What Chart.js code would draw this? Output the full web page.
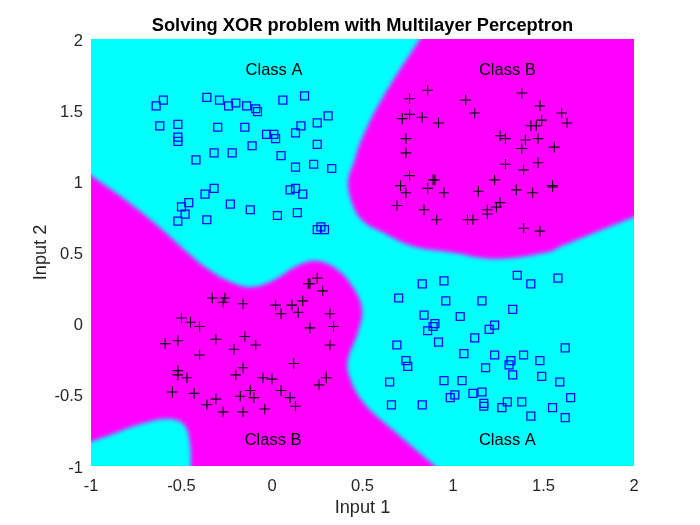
<!DOCTYPE html>
<html>
<head>
<meta charset="utf-8">
<title>Solving XOR problem with Multilayer Perceptron</title>
<script src="https://cdn.jsdelivr.net/npm/chart.js@4"></script>
<style>
    html, body { margin: 0; padding: 0; background: #fff; }
    canvas { display: block; }
</style>
</head>
<body>
<canvas id="xorChart" width="700" height="525"></canvas>
<script>
const xTicks = [-1, -0.5, 0, 0.5, 1, 1.5, 2];
const yTicks = [-1, -0.5, 0, 0.5, 1, 1.5, 2];

// class A, upper left blob
const classA1 = [[-0.60,1.57],[-0.64,1.53],[-0.36,1.59],[-0.29,1.57],[-0.24,1.53],[-0.20,1.55],[-0.14,1.53],[-0.09,1.51],[-0.08,1.49],[0.06,1.57],[0.18,1.60],
    [-0.62,1.39],[-0.52,1.40],[-0.52,1.31],[-0.52,1.28],[-0.30,1.38],[-0.15,1.38],[-0.03,1.33],[0.01,1.33],[0.02,1.30],[0.13,1.34],[0.16,1.39],[0.25,1.41],[0.31,1.46],
    [0.25,1.26],[-0.11,1.25],[-0.22,1.20],[-0.32,1.20],[-0.42,1.15],[0.05,1.18],[0.13,1.10],[0.23,1.12],[0.33,1.09],[-0.32,0.95],[-0.37,0.91],[0.10,0.94],[0.13,0.95],[0.17,0.91],
    [-0.46,0.85],[-0.50,0.82],[-0.48,0.77],[-0.52,0.72],[-0.36,0.73],[-0.23,0.84],[-0.12,0.80],[0.03,0.76],[0.14,0.78],[0.27,0.68],[0.29,0.66],[0.25,0.66]];

// class A, lower right blob
const classA2 = [[0.83,0.28],[0.95,0.30],[1.355,0.34],[1.43,0.28],[1.58,0.32],[0.70,0.18],[0.96,0.16],[1.16,0.16],[1.33,0.10],[0.84,0.06],[1.04,0.05],[0.90,0.00],[0.89,-0.02],[0.86,-0.05],
    [1.23,-0.01],[1.20,-0.04],[1.12,-0.10],[0.92,-0.13],[0.69,-0.15],[1.62,-0.17],[1.06,-0.21],[1.23,-0.22],[1.39,-0.22],[1.48,-0.26],[1.32,-0.26],[1.31,-0.29],[1.18,-0.31],[0.74,-0.26],[0.75,-0.30],
    [1.33,-0.36],[1.49,-0.37],[0.65,-0.41],[0.95,-0.40],[1.05,-0.40],[1.59,-0.41],[1.01,-0.50],[0.985,-0.52],[1.11,-0.49],[1.16,-0.48],[1.65,-0.52],[1.17,-0.56],[1.17,-0.58],[1.30,-0.55],[1.38,-0.55],
    [1.27,-0.59],[1.55,-0.59],[0.66,-0.57],[0.83,-0.57],[1.43,-0.65],[1.62,-0.66]];

// class B, upper right blob
const classB1 = [[0.86,1.64],[0.76,1.58],[1.07,1.57],[1.38,1.62],[1.48,1.53],[1.12,1.48],[1.60,1.48],[0.76,1.47],[0.72,1.44],[0.83,1.45],[0.92,1.41],[1.49,1.43],[1.43,1.39],[1.46,1.39],[1.63,1.41],
    [0.74,1.30],[1.26,1.32],[1.29,1.30],[1.40,1.29],[1.47,1.30],[1.38,1.23],[1.56,1.24],[0.74,1.20],[1.29,1.12],[1.47,1.13],[1.39,1.08],[0.76,1.04],[0.89,1.01],[0.90,1.01],[0.71,0.97],[1.23,1.01],
    [0.86,0.95],[0.74,0.92],[0.95,0.92],[1.14,0.93],[1.35,0.94],[1.44,0.92],[1.55,0.97],[1.55,0.96],[0.69,0.83],[0.84,0.80],[0.91,0.73],[1.19,0.80],[1.26,0.85],[1.24,0.82],[1.19,0.77],[1.08,0.73],[1.11,0.73],[1.39,0.67],[1.48,0.65]];

// class B, lower left blob
const classB2 = [[-0.33,0.18],[-0.26,0.18],[-0.27,0.15],[-0.16,0.14],[0.02,0.13],[0.11,0.13],[0.17,0.16],[0.05,0.07],[0.145,0.08],[0.20,0.28],[0.21,0.28],[0.25,0.32],[0.28,0.23],[0.32,0.07],[0.34,-0.02],[0.21,-0.03],[0.32,-0.15],
    [-0.50,0.04],[-0.45,0.01],[-0.40,-0.02],[-0.59,-0.14],[-0.52,-0.12],[-0.31,-0.11],[-0.15,-0.09],[-0.09,-0.15],[-0.21,-0.18],[-0.40,-0.22],[0.12,-0.28],[-0.52,-0.33],[-0.52,-0.36],[-0.47,-0.38],[-0.16,-0.31],[-0.20,-0.36],
    [-0.05,-0.38],[0.00,-0.39],[0.30,-0.38],[0.26,-0.43],[-0.55,-0.48],[-0.43,-0.49],[-0.12,-0.47],[0.05,-0.47],[-0.31,-0.53],[-0.36,-0.57],[-0.175,-0.51],[-0.10,-0.52],[0.10,-0.52],[0.13,-0.58],[-0.27,-0.62],[-0.16,-0.62],[-0.04,-0.60]];

// decision boundary outlines
const upperRegion = [[0.93,2.2],[0.818,2],[0.608,1.58],[0.497,1.30],[0.453,1.136],[0.42,0.995],[0.448,0.827],[0.503,0.72],[0.608,0.644],[0.773,0.546],[0.994,0.50],[1.232,0.455],[1.53,0.503],[1.60,0.545],[2,0.75],[2.2,0.85],[2.2,2.2]];
const lowerRegion = [[-1.2,1.22],[-1,1.04],[-0.816,0.875],[-0.63,0.686],[-0.464,0.497],[-0.354,0.384],[-0.227,0.293],[-0.116,0.258],[0.011,0.307],[0.144,0.41],[0.254,0.44],[0.365,0.375],[0.453,0.243],[0.497,0.10],[0.475,-0.06],[0.42,-0.25],[0.425,-0.36],[0.503,-0.55],[0.68,-0.76],[0.90,-1],[1,-1.11],
    [-0.44,-1.15],[-0.448,-1],[-0.453,-0.85],[-0.486,-0.71],[-0.575,-0.67],[-0.724,-0.705],[-0.89,-0.78],[-1,-0.83],[-1.2,-0.93]];

const classLabels = ["Class A", "Class B", "Class B", "Class A"];
const classLabelX = [0.011, 1.30, 0.006, 1.30];
const classLabelY = [1.782, 1.782, -0.818, -0.818];

const toPoints = (list) => list.map(p => ({x: p[0], y: p[1]}));
const FONT = "'Liberation Sans', Arial, sans-serif";

const squares = (list) => ({
    data: toPoints(list),
    pointStyle: 'rect',
    pointRadius: 5.6,
    pointBorderWidth: 1.25,
    pointBorderColor: '#0000ff',
    pointBackgroundColor: 'rgba(0,0,0,0)'
});
const crosses = (list) => ({
    data: toPoints(list),
    pointStyle: 'cross',
    pointRadius: 5.3,
    pointBorderWidth: 1.1,
    pointBorderColor: '#000000'
});
const region = (list) => ({
    data: toPoints(list),
    isRegion: true,
    showLine: true,
    tension: 0.4,
    capBezierPoints: false,
    borderWidth: 0,
    pointRadius: 0
});

const mapBackground = {
    id: 'mapBackground',
    beforeDraw(chart) {
        const {ctx, chartArea: a} = chart;
        ctx.save();
        ctx.fillStyle = '#00ffff';
        ctx.fillRect(a.left, a.top, a.right - a.left, a.bottom - a.top);
        ctx.restore();
    },
    // regions get a soft edge, the network output was a smooth surface
    beforeDatasetDraw(chart, args) {
        if (!chart.data.datasets[args.index].isRegion) return;
        const {ctx, chartArea: a} = chart;
        const line = args.meta.dataset;
        line.updateControlPoints(a);
        ctx.save();
        ctx.beginPath();
        ctx.rect(a.left, a.top, a.right - a.left, a.bottom - a.top);
        ctx.clip();
        ctx.filter = 'blur(2px)';
        ctx.fillStyle = '#ff00ff';
        ctx.beginPath();
        line.path(ctx);
        ctx.closePath();
        ctx.fill();
        ctx.restore();
        return false;
    },
    afterDatasetsDraw(chart) {
        const {ctx, scales} = chart;
        ctx.save();
        ctx.font = "16.5px " + FONT;
        ctx.fillStyle = '#000';
        ctx.textAlign = 'center';
        ctx.textBaseline = 'middle';
        classLabels.forEach((t, i) => {
            ctx.fillText(t, scales.x.getPixelForValue(classLabelX[i]), scales.y.getPixelForValue(classLabelY[i]));
        });
        ctx.restore();
    }
};

new Chart(document.getElementById('xorChart'), {
    type: 'scatter',
    data: {
        datasets: [
            squares(classA1), squares(classA2),
            crosses(classB1), crosses(classB2),
            region(upperRegion), region(lowerRegion)
        ]
    },
    plugins: [mapBackground],
    options: {
        responsive: false,
        animation: false,
        devicePixelRatio: 1,
        layout: { padding: { right: 66 } },
        plugins: {
            legend: { display: false },
            tooltip: { enabled: false },
            title: {
                display: true,
                fullSize: false,
                text: 'Solving XOR problem with Multilayer Perceptron',
                color: '#000',
                font: { family: FONT, size: 18.3, weight: 'bold' },
                padding: { top: 15, bottom: 2 }
            }
        },
        scales: {
            x: {
                min: -1,
                max: 2,
                afterBuildTicks: axis => { axis.ticks = xTicks.map(value => ({value})); },
                afterFit: axis => { axis.height = 59; },
                grid: { display: false, drawTicks: false },
                border: { display: false },
                ticks: {
                    z: 1, padding: 11, maxRotation: 0, autoSkip: false, color: '#262626',
                    font: { family: FONT, size: 16.5 },
                    callback: v => String(v)
                },
                title: { display: true, text: 'Input 1', color: '#262626', font: { family: FONT, size: 18.2 }, padding: { top: 4, bottom: 6 } }
            },
            y: {
                min: -1,
                max: 2,
                afterBuildTicks: axis => { axis.ticks = yTicks.map(value => ({value})); },
                afterFit: axis => { axis.width = 91; },
                grid: { display: false, drawTicks: false },
                border: { display: false },
                ticks: {
                    z: 1, padding: 8, autoSkip: false, color: '#262626', labelOffset: 2,
                    font: { family: FONT, size: 16.5 },
                    callback: v => String(v)
                },
                title: { display: true, text: 'Input 2', color: '#262626', font: { family: FONT, size: 18.2 }, padding: { top: 30, bottom: 0 } }
            }
        }
    }
});
</script>
</body>
</html>
